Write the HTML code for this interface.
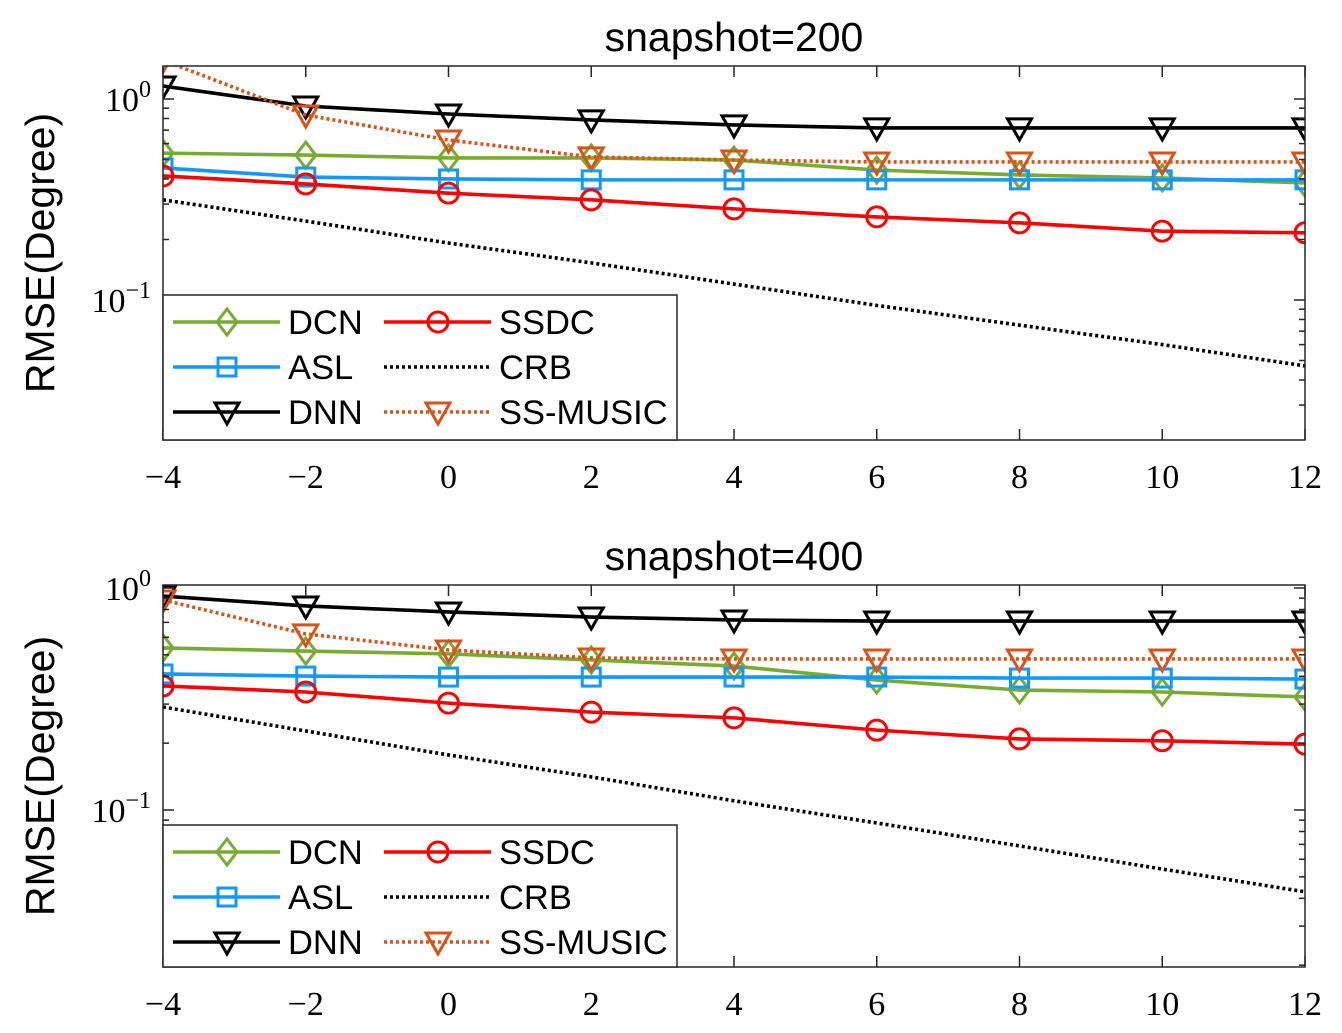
<!DOCTYPE html>
<html><head><meta charset="utf-8"><style>
body{margin:0;background:#fff}
svg{display:block}
.tk{font-family:"Liberation Serif",serif;font-size:34px}
.ti{font-family:"Liberation Sans",sans-serif;font-size:41px}
.lg{font-family:"Liberation Sans",sans-serif;font-size:34.5px}
</style></head><body>
<svg id="chart" width="1342" height="1033" xmlns="http://www.w3.org/2000/svg"></svg>
<script>
const snr=[-4,-2,0,2,4,6,8,10,12];
const xTicks=[-4,-2,0,2,4,6,8,10,12];
const seriesNames=["DCN","ASL","DNN","SSDC","CRB","SS-MUSIC"];
const top_DCN=[0.538,0.526,0.509,0.509,0.497,0.443,0.419,0.405,0.382];
const top_ASL=[0.454,0.409,0.400,0.396,0.396,0.396,0.396,0.396,0.396];
const top_DNN=[1.16,0.923,0.842,0.787,0.743,0.718,0.718,0.718,0.718];
const top_SSDC=[0.414,0.378,0.340,0.315,0.284,0.259,0.242,0.220,0.216];
const top_CRB=[0.315,0.247,0.192,0.153,0.120,0.094,0.075,0.060,0.047];
const top_SSMUSIC=[1.56,0.832,0.625,0.515,0.497,0.486,0.486,0.486,0.486];
const bot_DCN=[0.537,0.520,0.505,0.474,0.445,0.385,0.347,0.340,0.323];
const bot_ASL=[0.410,0.401,0.397,0.397,0.397,0.397,0.393,0.393,0.389];
const bot_DNN=[0.920,0.830,0.780,0.740,0.718,0.710,0.710,0.710,0.710];
const bot_SSDC=[0.362,0.340,0.303,0.276,0.260,0.229,0.209,0.205,0.198];
const bot_CRB=[0.291,0.227,0.177,0.141,0.110,0.0874,0.0689,0.0542,0.0428];
const bot_SSMUSIC=[0.883,0.621,0.526,0.484,0.479,0.479,0.479,0.479,0.479];

const NS="http://www.w3.org/2000/svg";
const svg=document.getElementById('chart');
function mk(tag,attrs,parent){const e=document.createElementNS(NS,tag);for(const k in attrs)e.setAttribute(k,attrs[k]);(parent||svg).appendChild(e);return e;}
const styles={
 DCN:{c:"#77AC30",dash:"",m:"diamond"},
 ASL:{c:"#1199FF",dash:"",m:"square"},
 DNN:{c:"#000000",dash:"",m:"tri"},
 SSDC:{c:"#FF0000",dash:"",m:"circle"},
 CRB:{c:"#000000",dash:"3,3",m:"none"},
 "SS-MUSIC":{c:"#D95319",dash:"3,3",m:"tri"}
};
const LW=3.6;
function marker(g,type,x,y,c){
 let e;
 if(type==="diamond")e=mk('polygon',{points:`${x},${y-13} ${x+10},${y} ${x},${y+13} ${x-10},${y}`,fill:"none",stroke:c,"stroke-width":3},g);
 else if(type==="square")e=mk('rect',{x:x-9,y:y-9,width:18,height:18,fill:"none",stroke:c,"stroke-width":3},g);
 else if(type==="tri")e=mk('polygon',{points:`${x-12},${y-9} ${x+12},${y-9} ${x},${y+12}`,fill:"none",stroke:c,"stroke-width":3},g);
 else if(type==="circle")e=mk('circle',{cx:x,cy:y,r:10,fill:"none",stroke:c,"stroke-width":3},g);
 if(e){}
}
function panel(id,title,L,T,R,B,y1px,decade,data,legTop){
 const xs=v=>L+(v-(-4))/16*(R-L);
 const ys=v=>y1px-Math.log10(v)*decade;
 const g=mk('g',{});
 
 const t=mk('text',{x:(L+R)/2,y:T-15,"text-anchor":"middle",class:"ti"},g);t.textContent=title;
 
 const yl=mk('text',{x:0,y:0,"text-anchor":"middle",class:"ti",transform:`translate(54,${(T+B)/2}) rotate(-90)`},g);yl.textContent="RMSE(Degree)";
 
 const cid='clip'+id;const cp=mk('clipPath',{id:cid},g);mk('rect',{x:L,y:T,width:R-L,height:B-T},cp);
 const dg=mk('g',{"clip-path":`url(#${cid})`},g);
 seriesNames.forEach((n,i)=>{
  const s=styles[n];const vals=data[i];
  const pts=snr.map((x,j)=>`${xs(x)},${ys(vals[j])}`).join(' ');
  const pl=mk('polyline',{points:pts,fill:"none",stroke:s.c,"stroke-width":LW,"stroke-dasharray":s.dash},dg);
  
  snr.forEach((x,j)=>marker(dg,s.m,xs(x),ys(vals[j]),s.c));
 });
 mk('rect',{x:L,y:T,width:R-L,height:B-T,fill:"none",stroke:"#262626","stroke-width":1.5},g);
 xTicks.forEach(v=>{
  const x=xs(v);
  mk('line',{x1:x,x2:x,y1:B,y2:B-11,stroke:"#262626","stroke-width":1.5},g);
  mk('line',{x1:x,x2:x,y1:T,y2:T+11,stroke:"#262626","stroke-width":1.5},g);
  const tx=mk('text',{x:x,y:B+48,"text-anchor":"middle",class:"tk"},g);tx.textContent=(v<0?"\u2212"+(-v):v);
  
 });
 for(let d=-2;d<=0;d++)for(let m=1;m<10;m++){
  const v=m*Math.pow(10,d);const y=ys(v);if(y<T||y>B)continue;
  const len=m===1?11:6;
  mk('line',{x1:L,x2:L+len,y1:y,y2:y,stroke:"#262626","stroke-width":1.5},g);
  mk('line',{x1:R,x2:R-len,y1:y,y2:y,stroke:"#262626","stroke-width":1.5},g);
 }
 [[0,"0"],[-1,"\u22121"]].forEach(([e,s])=>{
  const y=ys(Math.pow(10,e));
  const tx=mk('text',{x:L-12,y:y+12,"text-anchor":"end",class:"tk"},g);
  tx.innerHTML=`10<tspan dy="-14" font-size="24">${s}</tspan>`;
  
 });
 const lg=mk('g',{},g);
 mk('rect',{x:L,y:legTop,width:514,height:B-legTop,fill:"#fff",stroke:"#262626","stroke-width":1.5},lg);
 const rows=[27,72,117];
 seriesNames.forEach((n,i)=>{
  const col=i<3?0:1,row=i%3;const s=styles[n];
  const x0=L+10+col*211,y=legTop+rows[row];
  const e=mk('g',{},lg);
  mk('line',{x1:x0,x2:x0+107,y1:y,y2:y,stroke:s.c,"stroke-width":LW,"stroke-dasharray":s.dash},e);
  marker(e,s.m,x0+54,y,s.c);
  const tx=mk('text',{x:x0+115,y:y+12,class:"lg"},e);tx.textContent=n;
 });
}
panel("top","snapshot=200",163,66,1305,440,99,201,[top_DCN,top_ASL,top_DNN,top_SSDC,top_CRB,top_SSMUSIC],295);
panel("bottom","snapshot=400",163,585,1305,967,588,222,[bot_DCN,bot_ASL,bot_DNN,bot_SSDC,bot_CRB,bot_SSMUSIC],825);
</script>
</body></html>
